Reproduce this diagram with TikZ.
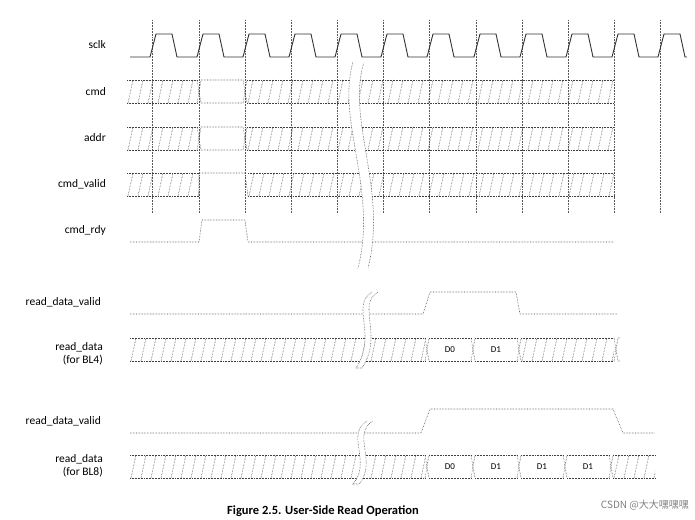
\documentclass[tikz,border=0pt]{standalone}
\usepackage{fontspec}
\setmainfont{Carlito}
\newfontfamily\cjk{Noto Sans CJK SC}
\begin{document}
\begin{tikzpicture}[x=1pt,y=-1pt,
  sig/.style={draw=black!75,line width=0.55pt,densely dotted},
  grid/.style={draw=black!65,line width=0.55pt,densely dotted},
  clk/.style={draw=black!80,line width=0.9pt},
  lab/.style={anchor=east,font=\fontsize{11.5}{13}\selectfont,align=right,inner sep=0pt},
  dat/.style={font=\fontsize{9}{11}\selectfont,inner sep=0pt}]
\useasboundingbox (0,0) rectangle (695,519);
\newcommand{\hatch}[4]{%
  \draw[sig] (#1,#3) -- (#2,#3) (#1,#4) -- (#2,#4);
  \begin{scope}\clip (#1,#3-1) rectangle (#2,#4+1);
  \pgfmathsetmacro{\nn}{int((#2-#1)/10)}%
  \foreach \k in {0,...,\nn}{\draw[sig] (#1+\k*10+1,#4) -- (#1+\k*10+6,#3);}
  \end{scope}}
% gridlines
\foreach \g in {152,199,245,291,337,383,429,476,522,568,614,660}
  \draw[grid] (\g,20) -- (\g,213);
% clock
\draw[clk] (130,57) \foreach \g in {152,199,245,291,337,383,429,476,522,568,614,660}{ -- (\g-2,57) -- (\g+4,34) -- (\g+20,34) -- (\g+25,57)} -- (687,57);
% labels
\node[lab] (l1) at (106,45) {sclk};
\node[lab] (l2) at (106,92) {cmd};
\node[lab] (l3) at (106,138) {addr};
\node[lab] (l4) at (106,184) {cmd\_valid};
\node[lab] (l5) at (106,230) {cmd\_rdy};
\node[lab] (l6) at (101,302) {read\_data\_valid};
\node[lab] (l7) at (103,354) {read\_data\\(for BL4)};
\node[lab] (l8) at (101,421) {read\_data\_valid};
\node[lab] (l9) at (103,466) {read\_data\\(for BL8)};
% cmd
\hatch{127}{197}{80}{103}
\draw[sig] (197,80) -- (201,103) (197,103) -- (201,80) (201,80) -- (243,80) (201,103) -- (243,103)
  (243,80) -- (247,103) (243,103) -- (247,80);
\hatch{247}{614}{80}{103}
% addr
\hatch{127}{197}{127}{150}
\draw[sig] (197,127) -- (201,150) (197,150) -- (201,127) (201,127) -- (243,127) (201,150) -- (243,150)
  (243,127) -- (247,150) (243,150) -- (247,127);
\hatch{247}{614}{127}{150}
% cmd_valid
\hatch{127}{199}{173}{196}
\draw[sig] (199,173) -- (199,196) (199,173) -- (245,173) -- (248,196);
\hatch{248}{614}{173}{196}
% cmd_rdy
\draw[sig] (130,242) -- (199,242) -- (202,220) -- (245,220) -- (248,242) -- (614,242);
% BL4
\draw[sig] (130,314) -- (423,314) -- (430,292) -- (516,292) -- (520,314) -- (617,314);
\hatch{130}{425}{338}{361}
\draw[sig] (425,338) -- (429,361) (425,361) -- (429,338);
\foreach \a/\b in {429/471,475/517}{\draw[sig] (\a,338) -- (\b,338) (\a,361) -- (\b,361);}
\draw[sig] (471,338) -- (475,361) (471,361) -- (475,338) (517,338) -- (521,361) (517,361) -- (521,338);
\node[dat] (d0a) at (450,350) {D0};
\node[dat] (d1a) at (496,350) {D1};
\hatch{521}{614}{338}{361}
\draw[sig] (614,338) -- (618,361) (614,361) -- (618,338) (618,338) -- (620,338) (618,361) -- (620,361);
% BL8
\draw[sig] (130,433) -- (421,433) -- (430,409) -- (613,409) -- (623,433) -- (655,433);
\hatch{130}{425}{455}{478}
\draw[sig] (425,455) -- (429,478) (425,478) -- (429,455);
\foreach \a/\b in {429/471,475/517,521/563,567/609}{\draw[sig] (\a,455) -- (\b,455) (\a,478) -- (\b,478);}
\foreach \c in {471,517,563,609}{\draw[sig] (\c,455) -- (\c+4,478) (\c,478) -- (\c+4,455);}
\node[dat] (d0b) at (450,467) {D0};
\node[dat] (d1b) at (496,467) {D1};
\node[dat] (d1c) at (542,467) {D1};
\node[dat] (d1d) at (588,467) {D1};
\hatch{613}{655}{455}{478}
% breaks
\filldraw[sig,fill=white] (353,62) .. controls (336,120) and (378,190) .. (358,268) -- (368,268) .. controls (388,190) and (346,120) .. (364,62) -- cycle;
\draw[draw=white,line width=1.5pt] (353,62) -- (364,62) (358,268) -- (368,268);
\draw[sig,fill=white] (372,292) .. controls (350,305) and (378,335) .. (356,368) -- (362,368) .. controls (384,335) and (356,305) .. (378,292);
\draw[sig,fill=white] (367,421) .. controls (345,434) and (372,462) .. (353,484) -- (359,484) .. controls (378,462) and (351,434) .. (373,421);
% caption
\node[font=\bfseries\fontsize{12.5}{14}\selectfont] (cap) at (323,511) {Figure 2.5. User-Side Read Operation};
\node[anchor=east,font=\cjk\fontsize{10}{12}\selectfont,text=black!50,inner sep=0pt] (wm) at (689,505) {CSDN @大大嘿嘿嘿};
\end{tikzpicture}
\end{document}
